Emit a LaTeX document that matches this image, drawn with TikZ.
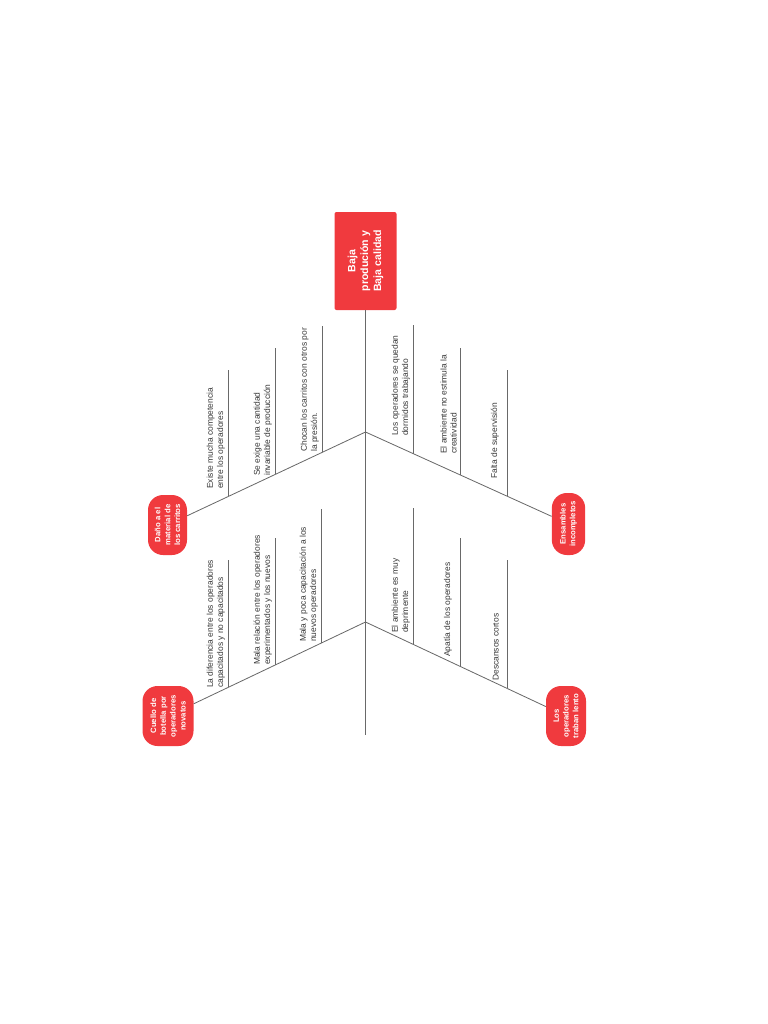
\documentclass[tikz,border=0pt]{standalone}
\usepackage{fontspec}
\setmainfont{Liberation Sans}
\usetikzlibrary{positioning}
\tikzstyle{fishbone} = [x = 0.03cm, y = -0.03cm]
\definecolor{causeRed}{RGB}{240,58,62}
\definecolor{boneColor}{RGB}{105,105,105}
\definecolor{causeTextColor}{RGB}{55,55,55}
\tikzstyle{boneLine} = [color=boneColor, line width=.7pt]
\tikzstyle{subLine} = [color=boneColor, line width=.6pt]
\tikzstyle{headStyle} = [fill=causeRed, rounded corners = .06cm, rotate=90, text=white, align=center, inner sep=0,
  font=\fontsize{9}{11}\selectfont\bfseries, minimum width=2.94cm, minimum height=1.86cm]
\tikzstyle{pillStyle} = [fill=causeRed, rounded corners = .45cm, rotate=90, text=white, align=center, inner sep=0,
  font=\fontsize{6.6}{8.4}\selectfont\bfseries]
\tikzstyle{causeText} = [rotate=90, anchor=south west, inner sep=0, align=left, text=causeTextColor,
  font=\fontsize{7.2}{8.6}\selectfont]
\newcommand{\subCause}[6]{
  \coordinate (#1Top) at (#2, #3);
  \coordinate (#1Foot) at (#2, #4);
  \draw [subLine] (#1Foot) -- (#1Top);
  \node [causeText] (#1) at (#2 - 3, #5) {#6};
}
\newcommand{\subCauseShort}[6]{
  \coordinate (#1Top) at (#2, #3);
  \coordinate (#1Foot) at (#2, #4);
  \draw [subLine] (#1Foot) -- (#1Top);
  \node [causeText] (#1) at (#2 - 8, #5) {#6};
}

\begin{document}
\begin{tikzpicture}[fishbone]
  \useasboundingbox (0,0) rectangle (768,1024);
  % head and spine
  \node [headStyle] (effect) at (365.5,261) {Baja\\produción y\\Baja calidad};
  \coordinate (spineEnd) at (365.5,735);
  \coordinate (upperJoint) at (365.5,432);
  \coordinate (lowerJoint) at (365.5,622);
  \draw [boneLine] (effect.west) -- (spineEnd);

  % main causes
  \node [pillStyle, minimum width=1.8cm, minimum height=1.17cm] (damagePill) at (167.5,525) {Daño a el\\material de\\los carritos};
  \node [pillStyle, minimum width=1.8cm, minimum height=1.53cm] (bottleneckPill) at (168,716) {Cuello de\\botella por\\operadores\\novatos};
  \node [pillStyle, minimum width=1.86cm, minimum height=1.0cm] (assemblyPill) at (568.5,524) {Ensambles\\incompletos};
  \node [pillStyle, minimum width=1.8cm, minimum height=1.2cm] (slowPill) at (566,716) {Los\\operadores\\traban lento};
  \draw [boneLine] (upperJoint) -- (damagePill);
  \draw [boneLine] (lowerJoint) -- (bottleneckPill);
  \draw [boneLine] (upperJoint) -- (assemblyPill);
  \draw [boneLine] (lowerJoint) -- (slowPill);

  % sub causes
  \subCause{competition}{228}{370}{496.3}{489}{Existe mucha competencia\\entre los operadores}
  \subCause{quota}{275}{348}{474.3}{476}{Se exige una cantidad\\invariable de producción}
  \subCause{crash}{322}{326}{452.2}{452}{Chocan los carritos con otros por\\la presión.}

  \subCause{difference}{228}{560}{687.4}{688}{La diferencia entre los operadores\\capacitados y no capacitados}
  \subCause{relation}{275}{538}{664.9}{665}{Mala relación entre los operadores\\experimentados y los nuevos}
  \subCause{training}{321}{509}{643.0}{642}{Mala y poca capacitación a los\\nuevos operadores}

  \subCause{sleeping}{413}{325}{453.8}{436}{Los operadores se quedan\\dormidos trabajando}
  \subCause{creativity}{460}{348}{475.1}{454}{El ambiente no estimula la\\creatividad}
  \subCauseShort{supervision}{507}{370}{496.4}{479}{Falta de supervisión}

  \subCause{mood}{413}{508}{644.4}{633}{El ambiente es muy\\deprimente}
  \subCauseShort{apathy}{460}{538}{666.4}{657}{Apatía de los operadores}
  \subCauseShort{breaks}{507}{560}{687.9}{681}{Descansos cortos}
\end{tikzpicture}
\end{document}
